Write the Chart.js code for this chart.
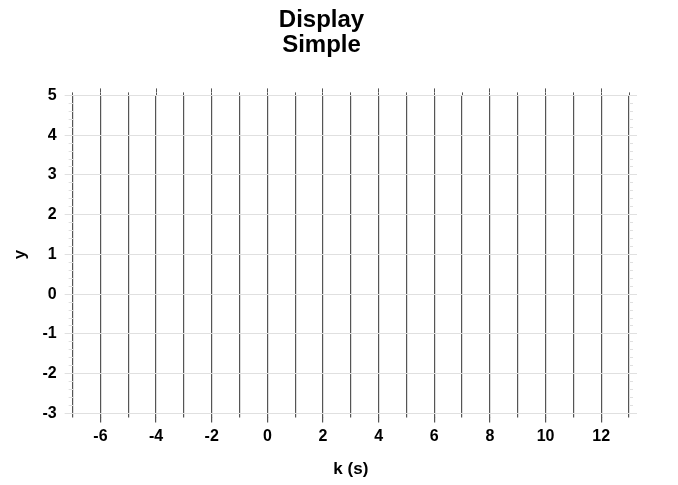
<!DOCTYPE html>
<html>
<head>
<meta charset="utf-8">
<script src="https://cdn.jsdelivr.net/npm/chart.js@4"></script>
<style>
  html, body { margin: 0; padding: 0; background: #fff; }
  #wrap { width: 678px; height: 485px; }
</style>
</head>
<body>
<div id="wrap"><canvas id="plot"></canvas></div>
<script>
// axis ranges and tick steps (the plot itself holds no marks)
const xRange = [-7, 13];
const yRange = [-3, 5];
const xMajorStep = 2;
const yMinorStep = 0.2;
const seriesX = [];
const seriesY = [];
const titleLines = ['Display', 'Simple'];
const xTitle = 'k (s)';
const yTitle = 'y';

const tickFont = { family: 'Liberation Sans', size: 16, weight: 'bold' };
const darkGrid = '#555555';
const lightGrid = '#e0e0e0';
const isWhole = (v) => Math.abs(v - Math.round(v)) < 1e-6;

// helpers for the tick-only axes that sit round the plot
function tickAxis(position, range, step, length, color, extra = {}) {
    return Object.assign({
        type: 'linear',
        position: position,
        min: range[0],
        max: range[1],
        ticks: { stepSize: step, display: false },
        grid: { drawOnChartArea: false, tickLength: length, color: color },
        border: { display: false }
    }, extra);
}

const keepMajorX = (scale) => {
    scale.ticks = scale.ticks.filter(t => isWhole(t.value / xMajorStep));
};

new Chart(document.getElementById('plot').getContext('2d'), {
    type: 'scatter',
    data: {
        datasets: [{
            data: seriesX.map((x, i) => ({ x: x, y: seriesY[i] })),
            borderColor: '#1f77b4',
            backgroundColor: '#1f77b4'
        }]
    },
    options: {
        responsive: true,
        maintainAspectRatio: false,
        animation: false,
        layout: { padding: { left: 6, right: 41, top: 0, bottom: 5 } },
        plugins: {
            legend: { display: false },
            tooltip: { enabled: false },
            title: {
                display: true,
                text: titleLines,
                color: '#000',
                font: { family: 'Liberation Sans', size: 24, weight: 'bold', lineHeight: 1.05 },
                padding: { top: 8, bottom: 30 }
            }
        },
        scales: {
            // bottom: dark grid every unit, short ticks; outer axis adds the long majors + labels
            x: {
                type: 'linear',
                position: 'bottom',
                min: xRange[0],
                max: xRange[1],
                ticks: { stepSize: 1, display: false },
                grid: { color: darkGrid, lineWidth: 1.2, tickLength: 4 },
                border: { display: false }
            },
            xMajor: {
                type: 'linear',
                position: 'bottom',
                min: xRange[0],
                max: xRange[1],
                afterBuildTicks: keepMajorX,
                ticks: { stepSize: 1, color: '#000', font: tickFont, padding: 5, maxRotation: 0, autoSkip: false },
                grid: { drawOnChartArea: false, tickLength: 5, color: darkGrid, lineWidth: 1.2 },
                border: { display: false },
                title: {
                    display: true,
                    text: xTitle,
                    color: '#000',
                    font: { family: 'Liberation Sans', size: 17, weight: 'bold' },
                    padding: { top: 8, bottom: 0 }
                }
            },
            xTop: tickAxis('top', xRange, 1, 3, darkGrid),
            xTopMajor: tickAxis('top', xRange, 1, 4, darkGrid, { afterBuildTicks: keepMajorX }),

            // left: light grid at whole units, minor ticks every 0.2
            y: {
                type: 'linear',
                position: 'left',
                min: yRange[0],
                max: yRange[1],
                ticks: { stepSize: yMinorStep, display: false },
                grid: {
                    color: (ctx) => isWhole(ctx.tick.value) ? lightGrid : 'rgba(0,0,0,0)',
                    tickColor: lightGrid,
                    tickLength: 4
                },
                border: { display: false }
            },
            yMajor: {
                type: 'linear',
                position: 'left',
                min: yRange[0],
                max: yRange[1],
                ticks: { stepSize: 1, color: '#000', font: tickFont, padding: 8 },
                grid: { drawOnChartArea: false, tickLength: 4, color: lightGrid },
                border: { display: false },
                title: {
                    display: true,
                    text: yTitle,
                    color: '#000',
                    font: { family: 'Liberation Sans', size: 17, weight: 'bold' },
                    padding: 4
                }
            },
            yRight: tickAxis('right', yRange, yMinorStep, 4, lightGrid),
            yRightMajor: tickAxis('right', yRange, 1, 4, lightGrid)
        }
    }
});
</script>
</body>
</html>
